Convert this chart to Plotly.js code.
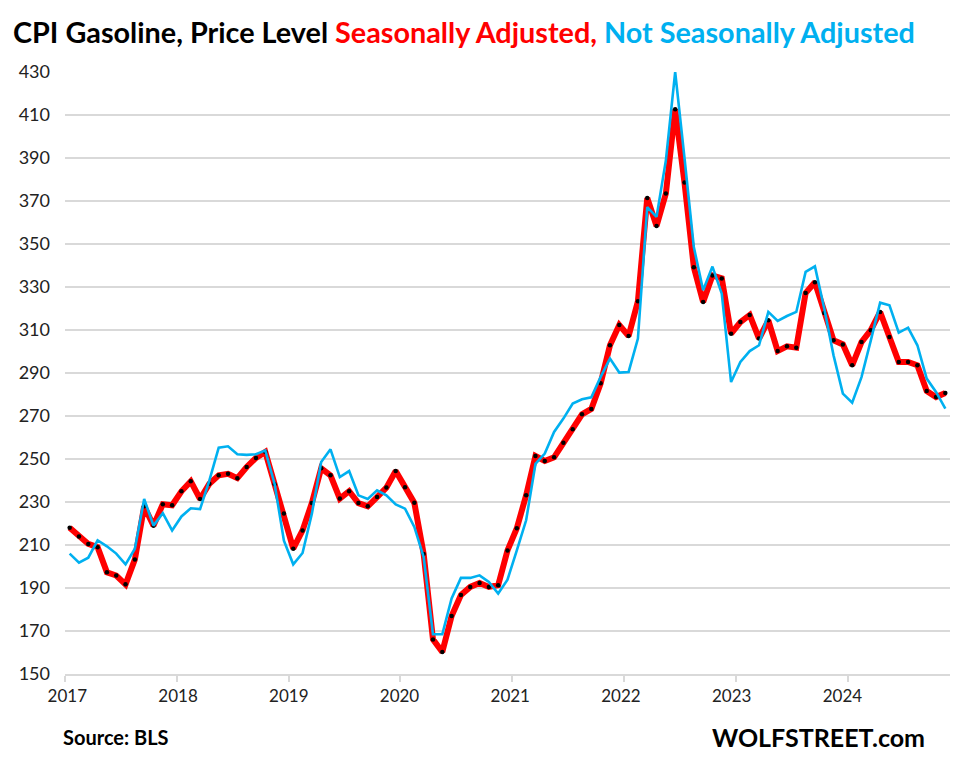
<!DOCTYPE html>
<html>
<head>
<meta charset="utf-8">
<script src="https://cdn.plot.ly/plotly-3.0.1.min.js"></script>
<style>
  html, body { margin: 0; padding: 0; background: #fff; }
  #chart { width: 957px; height: 765px; }
</style>
</head>
<body>
<div id="chart"></div>
<script>
// Monthly CPI Gasoline, Jan 2017 – Nov 2024
const startYear = 2017;
const yearLabels = ['2017', '2018', '2019', '2020', '2021', '2022', '2023', '2024'];

const seasonallyAdjusted = [
  218, 214, 210.5, 209, 197.3, 195.8, 191.7, 203.3, 228, 219, 229, 228.5,
  235, 239.6, 231.4, 238.5, 242.4, 243.1, 241.1, 246.3, 250.5, 253.3, 238.2, 224.6,
  208.3, 216.8, 229.5, 245.7, 242.4, 231.6, 235, 229.5, 228, 232.3, 236.7, 244.4,
  236.9, 229.6, 205.8, 166.1, 160.2, 177, 186.7, 190.5, 192.3, 190.5, 191.3, 207.5,
  217.8, 233.1, 251.4, 249.1, 250.8, 257.6, 263.8, 270.8, 273.3, 285.2, 302.9, 312.3,
  307.2, 323.4, 371.4, 358.4, 373.5, 412.7, 378.6, 339.2, 323, 335.4, 334, 308.3,
  313.7, 317, 306, 314.5, 300.2, 302.4, 301.8, 327.2, 332.2, 317.9, 305.2, 303.3,
  293.6, 304.4, 309.9, 318.4, 306.7, 295.1, 295.1, 293.6, 281.6, 278.8, 280.7
];

const notSeasonallyAdjusted = [
  206, 201.8, 204.1, 212.2, 209.4, 206, 201, 208.3, 231.4, 219, 224.8, 216.8,
  223.3, 227.1, 226.7, 240.1, 255.3, 255.9, 252.2, 251.9, 252.2, 254, 238.4, 212,
  201, 206.3, 224.6, 248.6, 254.5, 241.6, 244.4, 233.1, 231.4, 235.4, 233.1, 228.9,
  226.9, 218.4, 204.4, 168.5, 168.5, 185.1, 194.7, 194.7, 195.9, 192.8, 187.4, 193.9,
  207.5, 221.5, 247.7, 252.5, 262.6, 268.8, 275.8, 277.8, 278.7, 288.2, 296.7, 290.2,
  290.5, 306, 367.2, 362.6, 388.9, 430, 390, 348.6, 328.5, 339.5, 326.9, 285.8,
  295.1, 300.2, 302.9, 318.4, 314.2, 316.5, 318.4, 337, 339.6, 320, 298.2, 280.4,
  276.2, 288.1, 305.2, 322.7, 321.5, 308.8, 311.1, 302.9, 287.4, 281.2, 273.4
];

const monthIndex = seasonallyAdjusted.map((_, i) => i);
const monthNames = monthIndex.map(i => (startYear + Math.floor(i / 12)) + '-' + String(i % 12 + 1).padStart(2, '0'));
const labelPos = yearLabels.map((_, k) => 11.886 * k - 0.25);

const FONT = 'Lato, "Open Sans", sans-serif';
const RED = '#FF0000';
const BLUE = '#00B0F0';
const GRID = '#D9D9D9';

const traces = [
  {
    x: monthIndex, y: seasonallyAdjusted, text: monthNames,
    type: 'scatter', mode: 'lines+markers', name: 'Seasonally Adjusted',
    line: { color: RED, width: 6 },
    marker: { color: '#000', size: 4.5, symbol: 'circle' },
    hovertemplate: '%{text}: %{y}<extra></extra>'
  },
  {
    x: monthIndex, y: notSeasonallyAdjusted, text: monthNames,
    type: 'scatter', mode: 'lines', name: 'Not Seasonally Adjusted',
    line: { color: BLUE, width: 2.6 },
    hovertemplate: '%{text}: %{y}<extra></extra>'
  }
];

const layout = {
  width: 957, height: 765,
  margin: { l: 65, r: 7, t: 72, b: 91 },
  paper_bgcolor: '#fff', plot_bgcolor: '#fff',
  showlegend: false,
  font: { family: FONT, color: '#222' },
  xaxis: {
    range: [-0.5, 94.5],
    tickmode: 'array', tickvals: labelPos, ticktext: yearLabels,
    ticks: '', showgrid: false, zeroline: false,
    showline: true, linecolor: GRID, linewidth: 2,
    tickfont: { family: FONT, size: 17, color: '#222' },
    ticklabelstandoff: 6,
    minor: { tickmode: 'linear', tick0: -0.5, dtick: 12, ticks: 'outside', ticklen: 6, tickwidth: 2, tickcolor: GRID, showgrid: false }
  },
  yaxis: {
    range: [150, 430], tickmode: 'linear', tick0: 150, dtick: 20,
    showgrid: true, gridcolor: GRID, gridwidth: 2,
    zeroline: false, showline: false, ticks: '',
    tickfont: { family: FONT, size: 18, color: '#222' },
    ticklabelstandoff: 14
  },
  annotations: [
    {
      xref: 'paper', yref: 'paper', x: -0.061, y: 1.0665, xanchor: 'left', yanchor: 'middle',
      text: '<b>CPI Gasoline, Price Level <span style="color:' + RED + '">Seasonally Adjusted,</span> <span style="color:' + BLUE + '">Not Seasonally Adjusted</span></b>',
      showarrow: false, font: { family: FONT, size: 28.8, color: '#000' }
    },
    {
      xref: 'paper', yref: 'paper', x: -0.004, y: -0.105, xanchor: 'left', yanchor: 'middle',
      text: '<b>Source: BLS</b>', showarrow: false,
      font: { family: FONT, size: 20, color: '#000' }
    },
    {
      xref: 'paper', yref: 'paper', x: 0.974, y: -0.105, xanchor: 'right', yanchor: 'middle',
      text: '<b>WOLFSTREET.com</b>', showarrow: false,
      font: { family: FONT, size: 25, color: '#000' }
    }
  ]
};

Plotly.newPlot('chart', traces, layout, { displayModeBar: false, responsive: false });
</script>
</body>
</html>
